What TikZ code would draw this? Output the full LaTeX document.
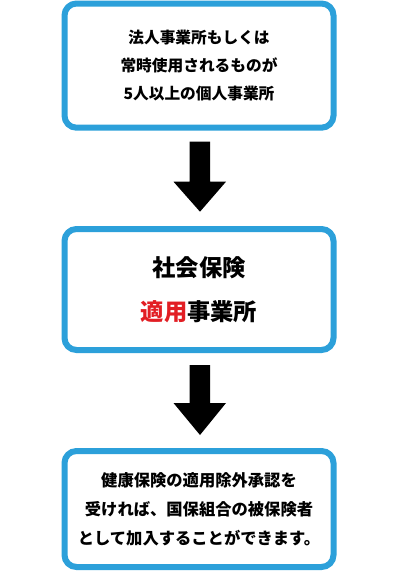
\documentclass[tikz,border=0pt]{standalone}
\usepackage{fontspec}
\setmainfont{Noto Sans CJK JP}
\definecolor{boxblue}{RGB}{44,160,218}
\definecolor{hired}{RGB}{226,30,36}
\begin{document}
\begin{tikzpicture}[x=1pt,y=-1pt,
  flowbox/.style={draw=boxblue, line width=6pt, rounded corners=12pt, fill=white,
    minimum width=269pt, align=center, inner sep=0pt, font=\bfseries},
  downarrow/.style={fill=black}]
\useasboundingbox (0,0) rectangle (400,576);
\fill[white] (0,0) rectangle (400,576);
\node[flowbox, minimum height=124.2pt, font=\bfseries\fontsize{15.7}{28.2}\selectfont] (b1) at (199,65.6)
  {法人事業所もしくは\\常時使用されるものが\\5人以上の個人事業所};
\node[flowbox, minimum height=121pt, font=\bfseries\fontsize{23.3}{44}\selectfont] (b2) at (199,289.5)
  {社会保険\\\textcolor{hired}{適用}事業所};
\node[flowbox, minimum height=116pt, font=\bfseries\fontsize{16.3}{29}\selectfont] (b3) at (199,509)
  {健康保険の適用除外承認を\\受ければ、国保組合の被保険者\\として加入することができます。};
% arrows
\fill[downarrow] ([xshift=-9.5pt,yshift=-11pt]b1.south) -- ++(0,40) -- ++(-16,0)
  -- ([xshift=1pt,yshift=-81pt]b1.south) -- ++(26,-30) -- ++(-16,0) -- ++(0,-40) -- cycle;
\fill[downarrow] ([xshift=-9.5pt,yshift=-12pt]b2.south) -- ++(0,38) -- ++(-16,0)
  -- ([xshift=1pt,yshift=-82pt]b2.south) -- ++(26,-32) -- ++(-16,0) -- ++(0,-38) -- cycle;
\end{tikzpicture}
\end{document}
